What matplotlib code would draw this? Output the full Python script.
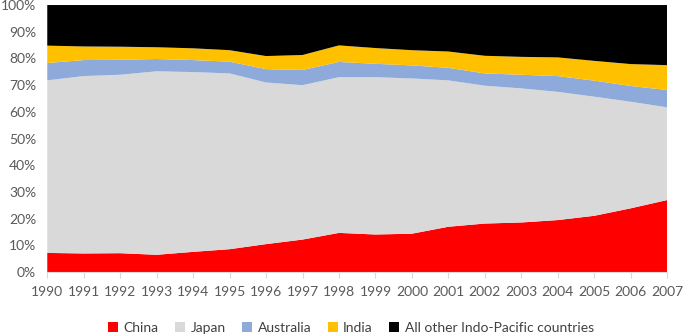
import numpy as np
import matplotlib
matplotlib.use('Agg')
import matplotlib.pyplot as plt
from matplotlib.ticker import PercentFormatter

# Cuota de cada pais (%) por anio
years = list(range(1990, 2008))
china = [7.2, 7.0, 7.1, 6.5, 7.6, 8.6, 10.5, 12.2, 14.7, 14.1, 14.4, 17.0, 18.2, 18.6, 19.5, 21.1, 23.9, 27.0]
japan = [64.6, 66.4, 66.8, 68.7, 67.3, 65.8, 60.5, 57.8, 58.3, 58.9, 58.1, 54.8, 51.6, 50.2, 48.0, 44.6, 39.9, 34.7]
australia = [6.5, 6.0, 5.6, 4.6, 4.5, 4.4, 5.0, 5.7, 5.7, 5.0, 4.9, 4.7, 4.6, 5.1, 5.9, 6.0, 5.9, 6.5]
india = [6.5, 5.1, 4.9, 4.4, 4.4, 4.3, 4.9, 5.6, 6.2, 5.9, 5.7, 6.1, 6.6, 6.7, 7.0, 7.4, 8.2, 9.3]
other = [15.2, 15.5, 15.6, 15.8, 16.2, 16.9, 19.1, 18.7, 15.1, 16.1, 16.9, 17.4, 19.0, 19.4, 19.6, 20.9, 22.1, 22.5]

labels = ['China', 'Japan', 'Australia', 'India', 'All other Indo-Pacific countries']
colors = ['#ff0000', '#d9d9d9', '#8eaadb', '#ffc000', '#000000']

plt.rcParams['font.family'] = ['Lato', 'DejaVu Sans']

series = np.array([china, japan, australia, india, other])
series = series / series.sum(axis=0) * 100  # normalizar a 100%

fig = plt.figure(figsize=(6.85, 3.36), dpi=100)
ax = fig.add_axes([0.069, 0.19, 0.905, 0.795])
ax.stackplot(years, series, colors=colors, labels=labels, linewidth=0)

ax.set_xlim(1990, 2007)
ax.set_ylim(0, 100)
ax.set_xticks(years)
ax.set_yticks(np.arange(0, 101, 10))
ax.yaxis.set_major_formatter(PercentFormatter(decimals=0))
ax.tick_params(axis='x', colors='#d9d9d9', labelcolor='#595959', labelsize=10, length=4, pad=6)
ax.tick_params(axis='y', length=0, labelcolor='#595959', labelsize=10, pad=8)
for s in ['top', 'right', 'left']:
    ax.spines[s].set_visible(False)
ax.spines['bottom'].set_color('#d9d9d9')

ax.legend(loc='upper center', bbox_to_anchor=(0.49, -0.14), ncol=5, frameon=False,
          fontsize=10, handlelength=0.7, handleheight=0.7, handletextpad=0.4,
          columnspacing=1.2, labelcolor='#404040')

fig.savefig('out.png', dpi=100)
